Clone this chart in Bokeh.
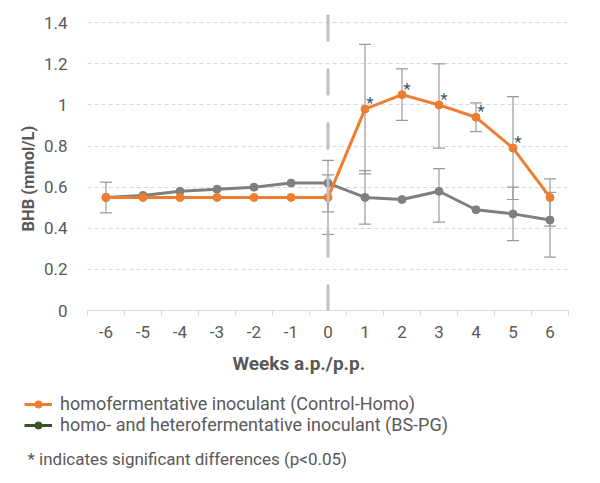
from bokeh.plotting import figure
from bokeh.layouts import column
from bokeh.models import (ColumnDataSource, Whisker, TeeHead, Span, Legend, LegendItem,
                          Label, FixedTicker, Title, Range1d)
from bokeh.core.properties import value
from bokeh.embed import file_html
from bokeh.resources import INLINE

# Weeks ante/post partum
weeks = [-6, -5, -4, -3, -2, -1, 0, 1, 2, 3, 4, 5, 6]
week_labels = ["-6", "-5", "-4", "-3", "-2", "-1", "0", "1", "2", "3", "4", "5", "6"]

# BHB (mmol/L), homofermentative inoculant (Control-Homo)
homo = [0.55, 0.55, 0.55, 0.55, 0.55, 0.55, 0.55, 0.98, 1.05, 1.00, 0.94, 0.79, 0.55]
# BHB (mmol/L), homo- and heterofermentative inoculant (BS-PG)
bspg = [0.55, 0.56, 0.58, 0.59, 0.60, 0.62, 0.62, 0.55, 0.54, 0.58, 0.49, 0.47, 0.44]

# Error bars (weeks with bars only)
homo_err_weeks = [-6, 0, 1, 2, 3, 4, 5, 6]
homo_err_low = [0.475, 0.37, 0.665, 0.925, 0.79, 0.87, 0.54, 0.41]
homo_err_high = [0.625, 0.73, 1.295, 1.175, 1.20, 1.01, 1.04, 0.64]

bspg_err_weeks = [0, 1, 3, 5, 6]
bspg_err_low = [0.48, 0.42, 0.43, 0.34, 0.26]
bspg_err_high = [0.66, 0.68, 0.69, 0.60, 0.575]

# Weeks with significant differences
sig_weeks = [1, 2, 3, 4, 5]

y_ticks = [0, 0.2, 0.4, 0.6, 0.8, 1.0, 1.2, 1.4]
y_tick_labels = ["0", "0.2", "0.4", "0.6", "0.8", "1", "1.2", "1.4"]

label_homo = "homofermentative inoculant (Control-Homo)"
label_bspg = "homo- and heterofermentative inoculant (BS-PG)"
footnote = "* indicates significant differences (p<0.05)"

ORANGE = "#ED7D31"
GRAY = "#7F7F7F"
GREEN = "#375623"
TEXT = "#595959"
FONT = "Roboto"

p = figure(width=600, height=383, output_backend="svg", toolbar_location=None,
           x_range=(-6.5, 6.5), y_range=(0, 1.44),
           min_border_left=87, min_border_right=32, min_border_top=14,
           min_border_bottom=72)
p.outline_line_color = None

# y axis
p.yaxis.ticker = FixedTicker(ticks=y_ticks)
p.yaxis.major_label_overrides = dict(zip(y_ticks, y_tick_labels))
p.yaxis.axis_line_color = None
p.yaxis.major_tick_line_color = None
p.yaxis.minor_tick_line_color = None
p.yaxis.major_label_standoff = 14
p.yaxis.major_label_text_font = FONT
p.yaxis.major_label_text_font_size = "17px"
p.yaxis.major_label_text_color = TEXT

# x axis: labels at week centres, small ticks between weeks
p.xaxis.ticker = FixedTicker(ticks=weeks, minor_ticks=[w + 0.5 for w in range(-7, 7)])
p.xaxis.major_label_overrides = dict(zip(weeks, week_labels))
p.xaxis.axis_line_color = "#D9D9D9"
p.xaxis.major_tick_line_color = None
p.xaxis.minor_tick_line_color = "#D9D9D9"
p.xaxis.minor_tick_in = 0
p.xaxis.minor_tick_out = 5
p.xaxis.major_label_standoff = 9
p.xaxis.major_label_text_font = FONT
p.xaxis.major_label_text_font_size = "17px"
p.xaxis.major_label_text_color = TEXT

p.xgrid.grid_line_color = None
p.ygrid.grid_line_color = "#D9D9D9"
p.ygrid.grid_line_dash = "4 3"

# axis titles
p.add_layout(Title(text="BHB (mmol/L)", align="left", offset=79, standoff=5,
                   text_font=FONT, text_font_style="bold", text_font_size="16.5px",
                   text_color=TEXT), "left")
p.add_layout(Title(text="Weeks a.p./p.p.", align="left", offset=145, standoff=18,
                   text_font=FONT, text_font_style="bold", text_font_size="19px",
                   text_color=TEXT), "below")

# calving marker
p.add_layout(Span(location=0, dimension="height", line_color="#BFBFBF",
                  line_width=3, line_dash="27 27"))

# series
p.line(weeks, bspg, line_color=GRAY, line_width=3)
p.scatter(weeks, bspg, size=8, fill_color=GRAY, line_color=GRAY)
p.line(weeks, homo, line_color=ORANGE, line_width=3)
p.scatter(weeks, homo, size=8, fill_color=ORANGE, line_color=ORANGE)

# error bars
for xs, lo, hi in [(homo_err_weeks, homo_err_low, homo_err_high),
                   (bspg_err_weeks, bspg_err_low, bspg_err_high)]:
    src = ColumnDataSource(dict(base=xs, lower=lo, upper=hi))
    p.add_layout(Whisker(source=src, base="base", lower="lower", upper="upper",
                         line_color="#9A9A9A", line_width=1.2,
                         upper_head=TeeHead(size=12, line_color="#9A9A9A", line_width=1.2),
                         lower_head=TeeHead(size=12, line_color="#9A9A9A", line_width=1.2)))

# significance stars
sig_y = [homo[weeks.index(w)] for w in sig_weeks]
p.text(sig_weeks, sig_y, text=["*"] * len(sig_weeks), x_offset=5, y_offset=-6,
       text_font=value(FONT), text_font_size="17px", text_color="#44546A",
       text_align="center", text_baseline="middle")

# legend and footnote panel (no axes, frame not aligned with the chart above)
q = figure(width=600, height=100, output_backend="svg", toolbar_location=None,
           x_range=Range1d(0, 600), y_range=Range1d(0, 100),
           x_axis_location=None, y_axis_location=None,
           min_border=0, min_border_left=0, min_border_right=0,
           min_border_top=0, min_border_bottom=0)
q.frame_align = False
q.grid.grid_line_color = None
q.outline_line_color = None

nan = float("nan")
lo_l = q.line([nan, nan], [nan, nan], line_color=ORANGE, line_width=3)
lo_s = q.scatter([nan], [nan], size=7, fill_color=ORANGE, line_color=ORANGE)
lg_l = q.line([nan, nan], [nan, nan], line_color=GREEN, line_width=3)
lg_s = q.scatter([nan], [nan], size=7, fill_color=GREEN, line_color=GREEN)
legend = Legend(items=[LegendItem(label=label_homo, renderers=[lo_l, lo_s]),
                       LegendItem(label=label_bspg, renderers=[lg_l, lg_s])],
                location=(24, 48), orientation="vertical",
                glyph_width=28, glyph_height=18, label_height=18, spacing=-2,
                label_standoff=8, padding=0, margin=0,
                border_line_color=None, background_fill_alpha=0,
                label_text_font=FONT, label_text_font_size="18px",
                label_text_color=TEXT, label_text_baseline="middle")
q.add_layout(legend)

q.add_layout(Label(x=27, y=25, x_units="screen", y_units="screen", text=footnote,
                   text_align="left", text_baseline="middle",
                   text_font=FONT, text_font_size="17px", text_color=TEXT))

open("out.html", "w").write(file_html(column(p, q, spacing=0), INLINE))
